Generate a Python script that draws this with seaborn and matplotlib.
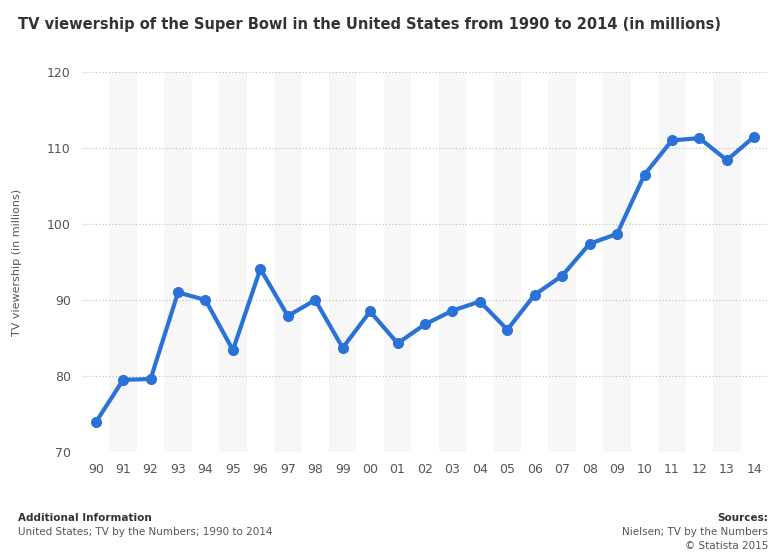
import matplotlib
matplotlib.use("Agg")
import matplotlib.pyplot as plt
import seaborn as sns
import pandas as pd

years = ["90","91","92","93","94","95","96","97","98","99","00","01","02","03","04","05","06","07","08","09","10","11","12","13","14"]
viewers = [73.9,79.5,79.6,91.0,90.0,83.4,94.1,87.9,90.0,83.7,88.5,84.3,86.8,88.6,89.8,86.1,90.7,93.2,97.4,98.7,106.5,111.0,111.3,108.4,111.5]
df = pd.DataFrame({"idx": range(len(years)), "v": viewers})

sns.set_style("white")
plt.rcParams['font.family'] = ['DejaVu Sans']
fig = plt.figure(figsize=(7.84, 5.54), dpi=100)
ax = fig.add_axes([82/784, 1-452/554, 686/784, 380/554])
for i in range(1, len(years), 2):
    ax.axvspan(i-0.5, i+0.5, color="#f7f7f7", zorder=0, lw=0)
for y in [80, 90, 100, 110, 120]:
    ax.axhline(y, color="#bbbbbb", ls=(0, (1, 2)), lw=0.8, zorder=1)
sns.lineplot(data=df, x="idx", y="v", ax=ax, color="#2a72d8", lw=3, marker="o",
             markersize=8, markeredgewidth=0, zorder=3)
ax.set_xlim(-0.5, len(years)-0.5)
ax.set_ylim(70, 120)
ax.set_xticks(range(len(years)))
ax.set_xticklabels(years)
ax.set_yticks([70, 80, 90, 100, 110, 120])
ax.tick_params(axis="both", labelsize=9, colors="#555555", length=0, pad=8)
ax.set_xlabel("")
ax.set_ylabel("TV viewership (in millions)", fontsize=8, color="#555555", labelpad=18)
for s in ax.spines.values():
    s.set_visible(False)
fig.text(18/784, 1-24/554, "TV viewership of the Super Bowl in the United States from 1990 to 2014 (in millions)",
         fontsize=10.5, fontweight="bold", color="#333333", va="center")
fig.text(18/784, 1-518/554, "Additional Information", fontsize=7.5, fontweight="bold", color="#333333", va="center")
fig.text(18/784, 1-532/554, "United States; TV by the Numbers; 1990 to 2014", fontsize=7.5, color="#555555", va="center")
fig.text(768/784, 1-518/554, "Sources:", fontsize=7.5, fontweight="bold", color="#333333", va="center", ha="right")
fig.text(768/784, 1-532/554, "Nielsen; TV by the Numbers", fontsize=7.5, color="#555555", va="center", ha="right")
fig.text(768/784, 1-546/554, "© Statista 2015", fontsize=7.5, color="#555555", va="center", ha="right")
fig.savefig("out.png", dpi=100)
